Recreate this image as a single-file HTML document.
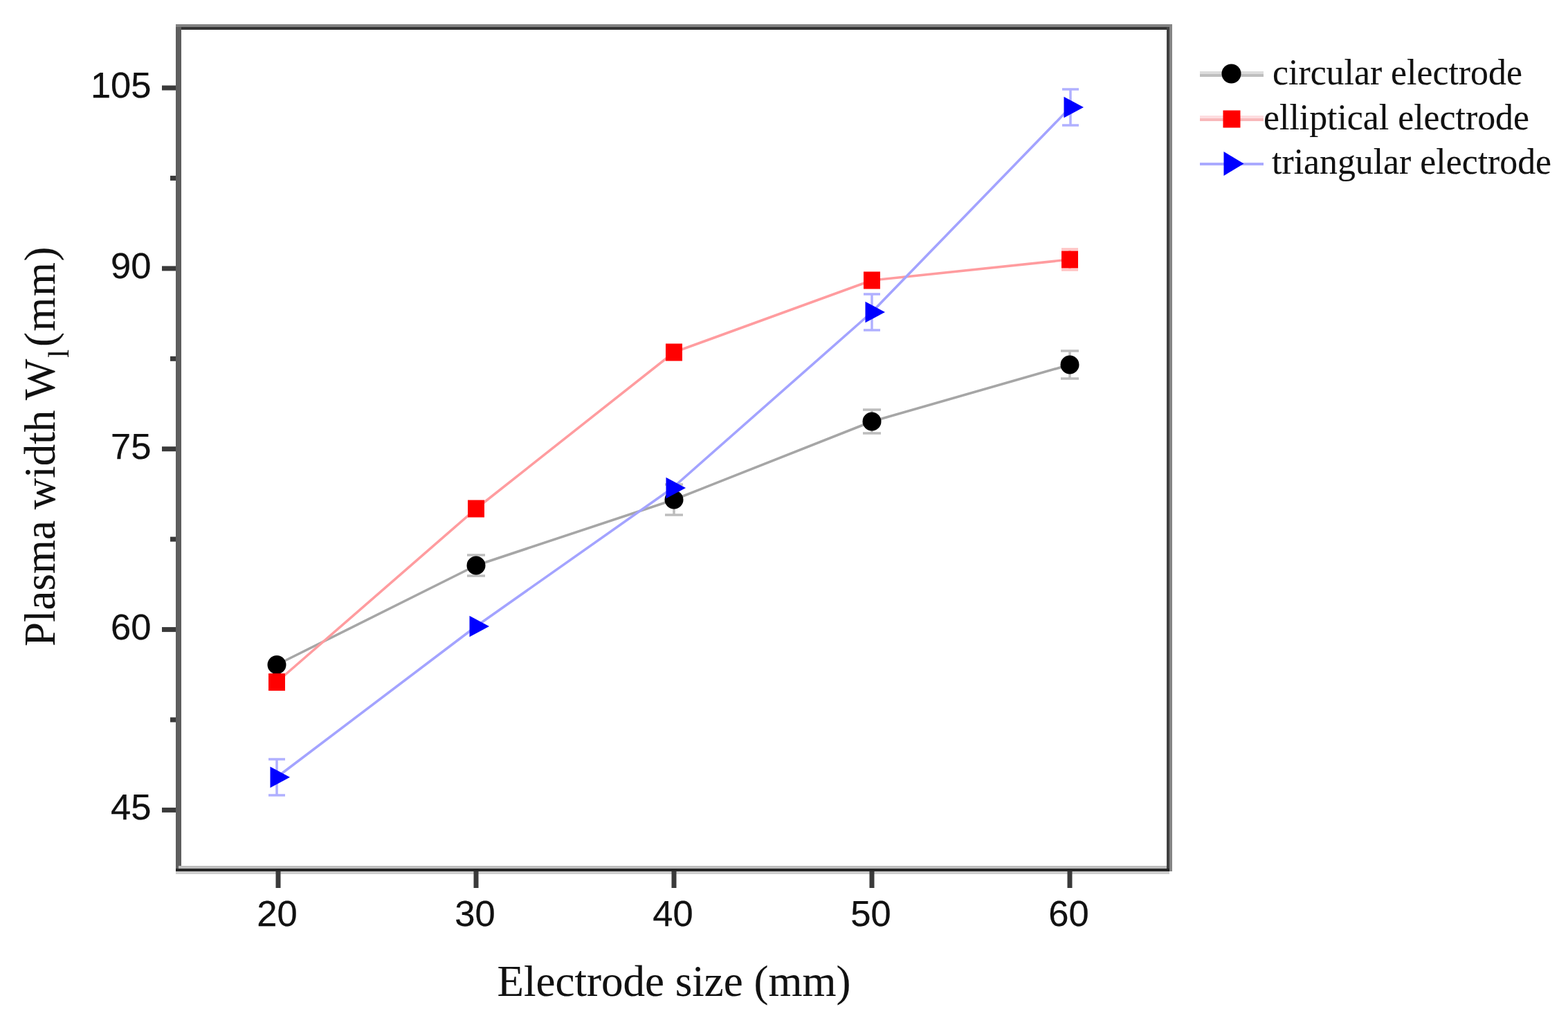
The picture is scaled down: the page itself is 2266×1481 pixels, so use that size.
<!DOCTYPE html>
<html><head><meta charset="utf-8"><title>Plasma width vs electrode size</title>
<style>
html,body{margin:0;padding:0;background:#fff;}
body{width:2266px;height:1481px;overflow:hidden;}
svg{display:block;}
.tl{font-family:"Liberation Sans",Arial,sans-serif;font-size:52.5px;fill:#111;stroke:#111;stroke-width:0.25px;}
.at{font-family:"Liberation Serif","Times New Roman",serif;font-size:63px;fill:#111;stroke:#111;stroke-width:0.1px;}
.lg{font-family:"Liberation Serif","Times New Roman",serif;font-size:51.8px;fill:#111;stroke:#111;stroke-width:0.1px;}
</style></head>
<body>
<svg width="2266" height="1481" viewBox="0 0 2266 1481">
<rect width="2266" height="1481" fill="#fff"/>
<rect x="254" y="35" width="1440" height="4" fill="#828282"/>
<rect x="258" y="39" width="1432" height="4" fill="#343434"/>
<rect x="254" y="39" width="8" height="1216" fill="#5e5e5e"/>
<rect x="1686" y="39" width="4" height="1220" fill="#404040"/>
<rect x="1690" y="35" width="4" height="1224" fill="#858585"/>
<rect x="258" y="1251" width="1428" height="4" fill="#bdbdbd"/>
<rect x="254" y="1255" width="1436" height="4" fill="#262626"/>
<rect x="254" y="1259" width="1436" height="4" fill="#cdcdcd"/>
<rect x="234" y="123.5" width="20" height="7" fill="#3a3a3a"/>
<rect x="234" y="384.4" width="20" height="7" fill="#3a3a3a"/>
<rect x="234" y="645.2" width="20" height="7" fill="#3a3a3a"/>
<rect x="234" y="906.1" width="20" height="7" fill="#3a3a3a"/>
<rect x="234" y="1166.9" width="20" height="7" fill="#3a3a3a"/>
<rect x="246" y="253.9" width="8" height="7" fill="#3a3a3a"/>
<rect x="246" y="514.8" width="8" height="7" fill="#3a3a3a"/>
<rect x="246" y="775.6" width="8" height="7" fill="#3a3a3a"/>
<rect x="246" y="1036.5" width="8" height="7" fill="#3a3a3a"/>
<rect x="398.5" y="1259" width="7" height="24" fill="#3a3a3a"/>
<rect x="684.5" y="1259" width="7" height="24" fill="#3a3a3a"/>
<rect x="970.5" y="1259" width="7" height="24" fill="#3a3a3a"/>
<rect x="1256.5" y="1259" width="7" height="24" fill="#3a3a3a"/>
<rect x="1542.5" y="1259" width="7" height="24" fill="#3a3a3a"/>
<text x="218.5" y="141.0" class="tl" text-anchor="end">105</text>
<text x="218.5" y="401.9" class="tl" text-anchor="end">90</text>
<text x="218.5" y="662.7" class="tl" text-anchor="end">75</text>
<text x="218.5" y="923.6" class="tl" text-anchor="end">60</text>
<text x="218.5" y="1184.4" class="tl" text-anchor="end">45</text>
<text x="400.5" y="1337.5" class="tl" text-anchor="middle">20</text>
<text x="686.5" y="1337.5" class="tl" text-anchor="middle">30</text>
<text x="972.5" y="1337.5" class="tl" text-anchor="middle">40</text>
<text x="1258.5" y="1337.5" class="tl" text-anchor="middle">50</text>
<text x="1544.5" y="1337.5" class="tl" text-anchor="middle">60</text>
<text x="974" y="1439" class="at" text-anchor="middle">Electrode size (mm)</text>
<text transform="translate(79,934) rotate(-90)" class="at">Plasma width W<tspan font-size="42" dy="20" dx="2">l</tspan><tspan dy="-20" dx="4" letter-spacing="1.5">(mm)</tspan></text>
<polyline points="400,960.5 688,817 974,722 1260,609 1546,527" fill="none" stroke="#a6a6a6" stroke-width="3.6" stroke-linejoin="round"/>

<line x1="688" y1="802" x2="688" y2="832" stroke="#bdbdbd" stroke-width="3.5"/><line x1="675.0" y1="802" x2="701.0" y2="802" stroke="#bdbdbd" stroke-width="3.5"/><line x1="675.0" y1="832" x2="701.0" y2="832" stroke="#bdbdbd" stroke-width="3.5"/>
<line x1="974" y1="700" x2="974" y2="744" stroke="#bdbdbd" stroke-width="3.5"/><line x1="961.0" y1="700" x2="987.0" y2="700" stroke="#bdbdbd" stroke-width="3.5"/><line x1="961.0" y1="744" x2="987.0" y2="744" stroke="#bdbdbd" stroke-width="3.5"/>
<line x1="1260" y1="592" x2="1260" y2="626" stroke="#bdbdbd" stroke-width="3.5"/><line x1="1247.0" y1="592" x2="1273.0" y2="592" stroke="#bdbdbd" stroke-width="3.5"/><line x1="1247.0" y1="626" x2="1273.0" y2="626" stroke="#bdbdbd" stroke-width="3.5"/>
<line x1="1546" y1="507" x2="1546" y2="547" stroke="#bdbdbd" stroke-width="3.5"/><line x1="1533.0" y1="507" x2="1559.0" y2="507" stroke="#bdbdbd" stroke-width="3.5"/><line x1="1533.0" y1="547" x2="1559.0" y2="547" stroke="#bdbdbd" stroke-width="3.5"/>
<circle cx="400" cy="960.5" r="13.5" fill="#000"/>
<circle cx="688" cy="817" r="13.5" fill="#000"/>
<circle cx="974" cy="722" r="13.5" fill="#000"/>
<circle cx="1260" cy="609" r="13.5" fill="#000"/>
<circle cx="1546" cy="527" r="13.5" fill="#000"/>
<polyline points="400,985.5 688,735 974,509 1260,405 1546,375" fill="none" stroke="#ff9c9f" stroke-width="3.6" stroke-linejoin="round"/>




<line x1="1546" y1="360" x2="1546" y2="390" stroke="#ffc4c4" stroke-width="3.5"/><line x1="1534.0" y1="360" x2="1558.0" y2="360" stroke="#ffc4c4" stroke-width="3.5"/><line x1="1534.0" y1="390" x2="1558.0" y2="390" stroke="#ffc4c4" stroke-width="3.5"/>
<rect x="388" y="973.0" width="24" height="25" fill="#ff0000"/>
<rect x="676" y="722.5" width="24" height="25" fill="#ff0000"/>
<rect x="962" y="496.5" width="24" height="25" fill="#ff0000"/>
<rect x="1248" y="392.5" width="24" height="25" fill="#ff0000"/>
<rect x="1534" y="362.5" width="24" height="25" fill="#ff0000"/>
<polyline points="400,1123 688,905 972,705 1260,451 1547,155" fill="none" stroke="#a3a3ff" stroke-width="3.6" stroke-linejoin="round"/>
<line x1="400" y1="1097" x2="400" y2="1149" stroke="#b0b0ff" stroke-width="3.5"/><line x1="388.0" y1="1097" x2="412.0" y2="1097" stroke="#b0b0ff" stroke-width="3.5"/><line x1="388.0" y1="1149" x2="412.0" y2="1149" stroke="#b0b0ff" stroke-width="3.5"/>


<line x1="1260" y1="425" x2="1260" y2="477" stroke="#b0b0ff" stroke-width="3.5"/><line x1="1248.0" y1="425" x2="1272.0" y2="425" stroke="#b0b0ff" stroke-width="3.5"/><line x1="1248.0" y1="477" x2="1272.0" y2="477" stroke="#b0b0ff" stroke-width="3.5"/>
<line x1="1547" y1="129" x2="1547" y2="181" stroke="#b0b0ff" stroke-width="3.5"/><line x1="1535.0" y1="129" x2="1559.0" y2="129" stroke="#b0b0ff" stroke-width="3.5"/><line x1="1535.0" y1="181" x2="1559.0" y2="181" stroke="#b0b0ff" stroke-width="3.5"/>
<polygon points="390.5,1107.7 390.5,1138.3 419.0,1123" fill="#0000ff"/>
<polygon points="678.5,889.7 678.5,920.3 707.0,905" fill="#0000ff"/>
<polygon points="962.5,689.7 962.5,720.3 991.0,705" fill="#0000ff"/>
<polygon points="1250.5,435.7 1250.5,466.3 1279.0,451" fill="#0000ff"/>
<polygon points="1537.5,139.7 1537.5,170.3 1566.0,155" fill="#0000ff"/>
<rect x="1734" y="103" width="92" height="4" fill="#dcdcdc"/><rect x="1734" y="107" width="92" height="4" fill="#bebebe"/>
<circle cx="1779.5" cy="106.5" r="14" fill="#000"/>
<rect x="1734" y="167" width="92" height="4" fill="#fddde0"/><rect x="1734" y="171" width="92" height="4" fill="#f8b8ba"/>
<rect x="1767.5" y="159.5" width="25" height="25" fill="#ff0000"/>
<rect x="1734" y="235" width="92" height="4" fill="#aaaaff"/>
<polygon points="1768.5,219 1768.5,254 1797.5,236.5" fill="#0000ff"/>
<text x="1839" y="122" class="lg">circular electrode</text>
<text x="1826" y="187" class="lg">elliptical electrode</text>
<text x="1838" y="251" class="lg">triangular electrode</text>
</svg>
</body></html>
